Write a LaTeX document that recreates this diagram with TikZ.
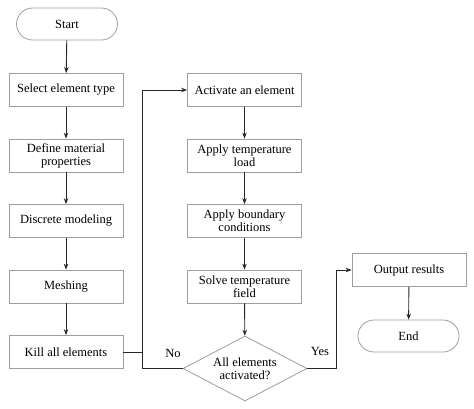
\documentclass[tikz,border=0pt]{standalone}
\usepackage{fontspec}
\setmainfont{Liberation Serif}
\usetikzlibrary{shapes.geometric,arrows.meta,positioning}
\begin{document}
\begin{tikzpicture}[x=1pt,y=-1pt,
  every node/.style={font=\fontsize{12.5}{13}\selectfont},
  box/.style={draw=black!38,line width=0.8pt,minimum width=114pt,minimum height=33pt,inner sep=1pt,align=center},
  term/.style={draw=black!38,line width=0.8pt,minimum width=101pt,minimum height=32pt,rounded corners=16pt,inner sep=1pt},
  dec/.style={draw=black!38,line width=0.8pt,diamond,aspect=1.9,minimum width=124pt,minimum height=65pt,inner sep=0pt,align=center},
  conn/.style={draw=black!85,line width=0.9pt},
  arr/.style={conn,-{Stealth[length=6pt,width=4.5pt]}},
  lbl/.style={inner sep=0pt}
]
\useasboundingbox (0,0) rectangle (474,408);
\node[term] (start) at (67,24) {Start};
\node[box] (select) at (66,90) {Select element type};
\node[box] (define) at (66,155.5) {Define material\\properties};
\node[box] (discrete) at (66,221) {Discrete modeling};
\node[box] (mesh) at (66,286.5) {Meshing};
\node[box] (kill) at (66,352) {Kill all elements};

\node[box] (activate) at (244.5,90) {Activate an element};
\node[box] (load) at (244.5,155.5) {Apply temperature\\load};
\node[box] (bound) at (244.5,221) {Apply boundary\\conditions};
\node[box] (solve) at (244.5,286.5) {Solve temperature\\field};
\node[dec] (all) at (245,368.5) {All elements\\activated?};

\node[box] (output) at (409,270) {Output results};
\node[term] (end) at (408.5,336) {End};

\coordinate (jb) at (142,368.5);
\coordinate (jk) at (142,352);
\coordinate (jy) at (336,368.5);

\draw[arr] (start) -- (select);
\draw[arr] (select) -- (define);
\draw[arr] (define) -- (discrete);
\draw[arr] (discrete) -- (mesh);
\draw[arr] (mesh) -- (kill);
\draw[conn] (kill.east) -- (jk);
\draw[arr] (all.west) -- (jb) |- (activate.west);
\draw[arr] (activate) -- (load);
\draw[arr] (load) -- (bound);
\draw[arr] (bound) -- (solve);
\draw[arr] (solve) -- (all);
\draw[arr] (all.east) -- (jy) |- (output.west);
\draw[arr] (output) -- (end);

\node[lbl] (no) at (173,353) {No};
\node[lbl] (yes) at (320,351) {Yes};
\end{tikzpicture}
\end{document}
